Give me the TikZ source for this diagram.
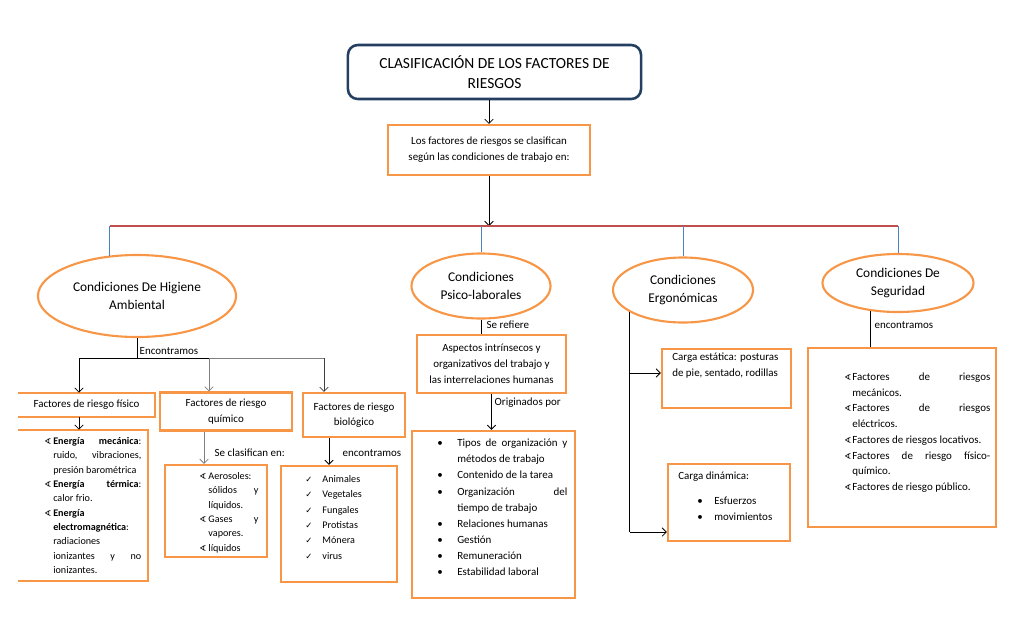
\documentclass[tikz,border=0pt]{standalone}
\usepackage{fontspec}
\setmainfont{Carlito}
\newfontfamily\symfont{DejaVu Sans}
\usepackage{array}
\usetikzlibrary{shapes.geometric,arrows.meta}
\definecolor{orng}{HTML}{F79646}
\definecolor{navy}{HTML}{243F60}
\definecolor{barred}{HTML}{C0504D}
\definecolor{barblue}{HTML}{4F81BD}
\newcommand{\ft}  {\fontsize{7.8}{11.2}\selectfont}
\newcommand{\fsm} {\fontsize{7.2}{10.2}\selectfont}
\newcommand{\fck} {\fontsize{7.2}{11}\selectfont}
\newcommand{\fel} {\fontsize{9.5}{13}\selectfont}
\newcommand{\ftit}{\fontsize{11}{14}\selectfont}
\newcommand{\arw} {{\symfont\fontsize{6}{6}\selectfont ∢}}
\newcommand{\chk} {{\symfont\fontsize{6}{6}\selectfont ✓}}

\begin{document}
\begin{tikzpicture}[x=0.025cm,y=-0.025cm,
  box/.style={draw=orng,line width=1.5pt,inner sep=0pt,align=center,font=\ft},
  boxline/.style={draw=orng,line width=1.5pt},
  cond/.style={ellipse,draw=orng,line width=1.5pt,inner sep=0pt,align=center,font=\fel},
  lbl/.style={anchor=west,inner sep=1pt,font=\ft},
  list/.style={anchor=north west,inner sep=0pt},
  conn/.style={-{Straight Barb[length=3pt,width=6pt]},line width=0.6pt},
  plain/.style={line width=0.6pt}]
      \useasboundingbox (0,0) rectangle (1022,621);

      \node[draw=navy,line width=1.8pt,rounded corners=7pt,minimum width=7.325cm,minimum height=1.35cm,align=center,font=\ftit] (tit) at (494.5,72) {CLASIFICACIÓN DE LOS FACTORES DE\\RIESGOS};
      \node[box,minimum width=5.05cm,minimum height=1.25cm] (clas) at (489,150) {Los factores de riesgos se clasifican\\según las condiciones de trabajo en:};

      \node[cond,minimum width=4.95cm,minimum height=2.05cm] (hig) at (137,296) {Condiciones De Higiene\\Ambiental};
      \node[cond,minimum width=3.475cm,minimum height=1.625cm] (psi) at (481,286) {Condiciones\\Psico-laborales};
      \node[cond,minimum width=3.5cm,minimum height=1.625cm] (erg) at (683,290) {Condiciones\\Ergonómicas};
      \node[cond,minimum width=3.775cm,minimum height=1.45cm] (seg) at (898,283) {Condiciones De\\Seguridad};

      \node[inner sep=0pt,minimum width=3.425cm,minimum height=0.6cm,font=\ft] (fis) at (86.5,405) {Factores de riesgo físico};
      \draw[boxline] (fis.north west) -- (fis.north east) -- (fis.south east) -- (fis.south west);
      \node[inner sep=0pt,minimum width=3.25cm,minimum height=3.775cm] (ene) at (83,505.5) {};
      \draw[boxline] (ene.north west) -- (ene.north east) -- (ene.south east) -- (ene.south west);
      \node[box,minimum width=3.3cm,minimum height=0.95cm] (quim) at (226,411.5) {Factores de riesgo\\químico};
      \node[box,minimum width=2.55cm,minimum height=2.3cm] (aer) at (216,511) {};
      \node[box,minimum width=2.55cm,minimum height=1.1cm] (bio) at (354,415) {Factores de riesgo\\biológico};
      \node[box,minimum width=2.9cm,minimum height=2.9cm] (ani) at (339,524) {};
      \node[box,minimum width=3.725cm,minimum height=1.45cm] (asp) at (491.5,364) {Aspectos intrínsecos y\\organizativos del trabajo y\\las interrelaciones humanas};
      \node[box,minimum width=4.075cm,minimum height=4.175cm] (tip) at (493.5,514.5) {};
      \node[box,minimum width=3.225cm,minimum height=1.475cm] (est) at (726.5,378.5) {};
      \node[box,minimum width=3.05cm,minimum height=1.925cm] (din) at (729,502.5) {};
      \node[box,minimum width=4.7cm,minimum height=4.475cm] (sl) at (902,437.5) {};

      \node[list,font=\fsm] (ene-t) at (44,434) {\begin{tabular}{@{}p{0.225cm}@{}p{2.2cm}@{}}
        \arw & \textbf{Energía}\hfill\textbf{mecánica}:\\
             & ruido,\hfill vibraciones,\\
             & presión barométrica\\
        \arw & \textbf{Energía}\hfill\textbf{térmica}:\\
             & calor frio.\\
        \arw & \textbf{Energía}\\
             & \textbf{electromagnética}:\\
             & radiaciones\\
             & ionizantes\hfill y\hfill no\\
             & ionizantes.
      \end{tabular}};
      \node[list,font=\fsm] (aer-t) at (199,469) {\begin{tabular}{@{}p{0.23cm}@{}p{1.25cm}@{}}
        \arw & Aerosoles:\\
             & sólidos\hfill y\\
             & líquidos.\\
        \arw & Gases\hfill y\\
             & vapores.\\
        \arw & líquidos
      \end{tabular}};
      \node[list,font=\fck] (ani-t) at (305,471) {\begin{tabular}{@{}p{0.43cm}@{}l@{}}
        \chk & Animales\\ \chk & Vegetales\\ \chk & Fungales\\
        \chk & Protistas\\ \chk & Mónera\\ \chk & virus
      \end{tabular}};
      \node[list,font=\fontsize{7.8}{11.5}\selectfont] (tip-t) at (437,435) {\begin{tabular}{@{}p{0.5cm}@{}p{2.75cm}@{}}
        • & Tipos \hfill de \hfill organización \hfill y\\
          & métodos de trabajo\\
        • & Contenido de la tarea\\
        • & Organización\hfill del\\
          & tiempo de trabajo\\
        • & Relaciones humanas\\
        • & Gestión\\
        • & Remuneración\\
        • & Estabilidad laboral
      \end{tabular}};
      \node[list,font=\ft,align=left] (est-t) at (672,353) {Carga estática: posturas\\de pie, sentado, rodillas};
      \node[list,font=\ft] (din-t) at (678,468) {\begin{tabular}{@{}p{0.475cm}@{}p{0.425cm}@{}l@{}}
        \multicolumn{3}{@{}l@{}}{Carga dinámica:}\\[7pt]
        & • & Esfuerzos\\
        & • & movimientos
      \end{tabular}};
      \node[list,font=\ft] (sl-t) at (844,369) {\begin{tabular}{@{}p{0.2cm}@{}p{3.45cm}@{}}
        \arw & Factores \hfill de \hfill riesgos\\
             & mecánicos.\\
        \arw & Factores \hfill de \hfill riesgos\\
             & eléctricos.\\
        \arw & Factores de riesgos locativos.\\
        \arw & Factores \hfill de \hfill riesgo \hfill físico-\\
             & químico.\\
        \arw & Factores de riesgo público.
      \end{tabular}};

      \draw[conn] (clas.north |- tit.south) -- (clas.north);
      \coordinate (bar) at (491,226);
      \draw[conn] (clas.south) -- (clas.south |- bar);
      \draw[barred,line width=0.8pt] (hig.124 |- bar) -- (seg.north |- bar);
      \draw[barblue,line width=0.6pt] (hig.124 |- bar) -- (hig.124);
      \draw[barblue,line width=0.6pt] (psi.north |- bar) -- (psi.north);
      \draw[barblue,line width=0.6pt] (erg.north |- bar) -- (erg.north);
      \draw[barblue,line width=0.6pt] (seg.north |- bar) -- (seg.north);

      \coordinate (ha) at (79,358);
      \coordinate (hb) at (209,358);
      \coordinate (hc) at (324,358);
      \draw[plain] (hig.south) -- (hig.south |- ha);
      \node[lbl] (enc1) at (138,351) {Encontramos};
      \draw[plain] (ha) -- (hb);
      \draw[plain,gray] (hb) -- (hc);
      \draw[conn] (ha) -- (ha |- fis.north);
      \draw[conn,gray] (hb) -- (hb |- quim.north);
      \draw[conn,black!75] (hc) -- (hc |- bio.north);
      \draw[conn] (ha |- fis.south) -- (ha |- ene.north);
      \coordinate (qa) at (204,0);
      \draw[conn,gray] (qa |- quim.south) -- (qa |- aer.north);
      \node[lbl] (clas-l) at (213,453) {Se clasifican en:};
      \coordinate (ba) at (329,0);
      \draw[conn] (ba |- bio.south) -- (ba |- ani.north);
      \node[lbl] (enc2) at (341,453) {encontramos};

      \draw[plain] (psi.south) -- (psi.south |- asp.north);
      \node[lbl] (ref) at (485,325) {Se refiere};
      \draw[conn] (asp.south) -- (asp.south |- tip.north);
      \node[lbl] (orig) at (493,403) {Originados por};

      \coordinate (ea) at (630,373);
      \coordinate (eb) at (630,532);
      \draw[plain] (erg.202) -- (erg.202 |- eb);
      \draw[conn] (ea) -- (ea -| est.west);
      \draw[conn] (eb) -- (eb -| din.west);

      \draw[plain] (seg.226) -- (seg.226 |- sl.north);
      \node[lbl] (enc3) at (873,325) {encontramos};
\end{tikzpicture}
\end{document}
